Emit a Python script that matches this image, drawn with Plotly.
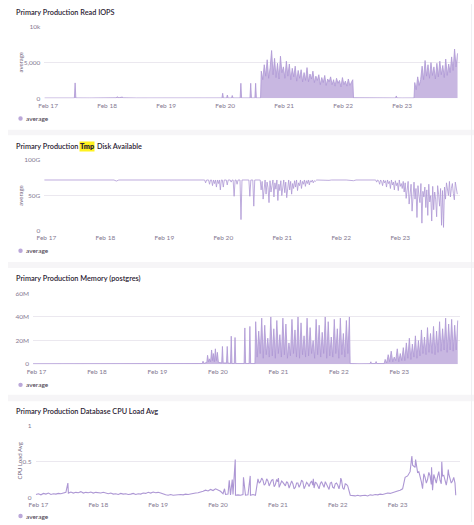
import plotly.graph_objects as go
from datetime import datetime, timedelta

W, H = 474, 525
T0 = datetime(2020, 2, 17)

# ---------------- DATA (hours after Feb 17 00:00, value) ----------------
DAY_LABELS = ["Feb 17", "Feb 18", "Feb 19", "Feb 20", "Feb 21", "Feb 22", "Feb 23"]

IOPS_QUIET_1 = [(-1.5, 30), (4, 40), (10.7, 30), (11.0, 2150), (11.3, 40), (17, 30), (24, 50),
                (27.6, 60), (28.2, 190), (28.8, 60), (30.1, 160), (30.7, 50), (36, 30), (44, 30),
                (52, 20), (60, 30), (66, 40), (70.7, 40), (71.0, 700), (71.3, 40), (72.6, 40),
                (72.9, 450), (73.2, 40), (74.6, 40), (74.9, 380), (75.2, 40), (78.1, 40),
                (78.4, 2100), (78.7, 40), (82.1, 40), (82.4, 2100), (82.7, 40), (84.1, 40),
                (84.4, 2100), (84.7, 40), (86.4, 40)]
IOPS_BLOCK_1_START, IOPS_BLOCK_1_STEP = 86.7, 0.6
IOPS_BLOCK_1 = [3800, 2600, 4700, 3100, 5400, 2800, 4300, 6700, 3300, 5600,
                2900, 4900, 2700, 5900, 3600, 4400, 2800, 5200, 3100, 4800,
                2600, 4200, 3000, 4500, 2400, 3900, 2800, 4000, 2300, 3600,
                2500, 4300, 2300, 3400, 2700, 3800, 2200, 3100, 2500, 3300,
                1900, 2900, 2200, 3200, 1800, 2700, 2300, 3000, 1900, 2600,
                1700, 2800, 2100, 2500, 1600, 2900, 1900, 2400, 1700, 2700, 1800, 2300, 2600]
IOPS_QUIET_2 = [(124.2, 60), (128, 40), (134, 30), (140, 40), (141.3, 40), (141.6, 320),
                (141.9, 40), (144, 30), (148.8, 40)]
IOPS_BLOCK_2_START, IOPS_BLOCK_2_STEP = 149.1, 0.6
IOPS_BLOCK_2 = [2200, 1200, 3000, 1800, 2600, 4500, 2600, 5300, 3100, 4700,
                2800, 5000, 3200, 4400, 2700, 4900, 3000, 5200, 3300, 4600,
                2900, 5500, 3200, 4800, 3600, 5800, 3900, 6900, 4400, 6300]

DISK_QUIET_1 = [(-1.5, 72), (10, 72), (27.5, 72), (28.5, 70.5), (29.5, 72), (45, 72), (60, 72), (64.0, 72)]
DISK_PRE = [(64.4, 72), (64.8, 68), (65.2, 72), (66.0, 72), (66.4, 66), (66.8, 72), (67.2, 72), (67.6, 64),
            (68.0, 72), (68.4, 67), (68.8, 72), (69.2, 62), (69.6, 72), (70.0, 67), (70.4, 72), (70.8, 58),
            (71.2, 72), (71.6, 72), (72.0, 62), (72.4, 72), (73.2, 72), (73.6, 65), (74.0, 72), (74.8, 72),
            (75.2, 69), (75.6, 72), (76.0, 72), (76.4, 49), (76.8, 72), (77.2, 72), (77.6, 66), (78.0, 72),
            (78.8, 72), (79.2, 16), (79.6, 72), (82.4, 72), (82.8, 49), (83.2, 72), (84.0, 72), (84.4, 35),
            (84.8, 72), (86.6, 72)]
DISK_BLOCK_1_START, DISK_BLOCK_1_STEP = 87.0, 0.4
DISK_BLOCK_1 = [72, 58, 70, 45, 66, 72, 52, 69, 61, 40, 71, 55, 64, 72, 48, 68, 59, 72, 43, 66,
                57, 71, 50, 63, 72, 54, 69, 47, 65, 72, 58, 70, 52, 67, 60,
                71, 62, 72, 57, 68, 64, 72, 60, 70, 66, 72, 63, 71, 67, 72, 65, 71, 69, 72, 68,
                71, 70, 72]
DISK_QUIET_2 = [(110, 72), (115, 71.5), (116, 72), (122, 72), (125, 71), (126, 72), (133.5, 72)]
DISK_BLOCK_2_START, DISK_BLOCK_2_STEP = 134.0, 0.4
DISK_BLOCK_2 = [72, 69, 72, 71, 66, 72, 70, 64, 72, 68, 71, 62, 72, 67, 70, 60, 72, 65, 69, 58,
                71, 64, 68, 57, 72, 63, 67, 60, 70, 55,
                68, 46, 62, 70, 38, 58,
                66, 28, 55, 69, 45, 60, 19, 64, 50, 40, 67, 11, 56, 48,
                62, 33, 58, 22, 66, 41, 50, 14, 63, 30, 55, 45, 20, 64, 52, 35, 60, 8, 57, 5,
                62, 45, 68, 55, 50, 70, 48, 60, 67, 53, 44, 69, 58, 52]

MEM_QUIET_1 = [(-1.5, 0.3), (10, 0.4), (20, 0.3), (30, 0.4), (40, 0.3), (50, 0.4), (60, 0.3), (63.5, 0.5)]
MEM_PRE = [(64.5, 0.5), (65.8, 0.5), (66.1, 2.5), (66.4, 0.5), (67.6, 1.5), (67.9, 7.5), (68.3, 2),
           (68.7, 4.5), (69.1, 2), (69.5, 12), (69.9, 3), (70.2, 9), (70.6, 2), (71.0, 13), (71.4, 3),
           (71.8, 10), (72.2, 1.5), (73.5, 1), (73.8, 15), (74.1, 1), (75.4, 1), (75.7, 15), (76.0, 1),
           (77.0, 0.5), (77.3, 23.7), (77.6, 0.5), (78.5, 0.5), (78.8, 22.6), (79.1, 0.5), (82.4, 0.5),
           (82.7, 30.7), (83.0, 0.5), (84.4, 0.5), (84.7, 32), (85.0, 0.5), (86.7, 0.5)]
MEM_BLOCK_1_START, MEM_BLOCK_1_STEP = 87.0, 0.6
MEM_BLOCK_1 = [36, 6, 28, 9, 39, 5, 33, 8, 22, 6, 40, 7, 30, 5, 37, 9, 25, 6, 39, 8,
               34, 5, 18, 7, 38, 9, 29, 6, 40, 5, 35, 8, 24, 6, 39, 7, 31, 9, 20, 5,
               38, 8, 33, 6, 27, 9, 40, 5, 36, 7, 23, 6, 38, 9, 30, 5, 39, 8, 26, 6,
               37, 9, 40]
MEM_QUIET_2 = [(124.5, 0.5), (128, 0.3), (132.4, 0.4), (132.7, 2), (133.0, 0.5), (134.5, 0.5),
               (134.8, 2.2), (135.1, 0.5), (138.0, 0.5)]
MEM_BLOCK_2_START, MEM_BLOCK_2_STEP = 138.4, 0.6
MEM_BLOCK_2 = [4, 1, 8, 2, 11, 2, 6, 3, 13, 2, 9, 3, 14, 3,
               18, 5, 22, 4, 17, 6, 24, 5, 20,
               7, 29, 9, 23, 8, 31, 10, 26, 9, 32, 8, 28, 10,
               36, 11, 30, 12, 39, 10, 34, 12, 38, 11, 33, 12, 37]

CPU_START, CPU_STEP = -1.0, 1.0
CPU_HOURLY = [0.04, 0.05, 0.035, 0.055, 0.045, 0.06, 0.04, 0.05, 0.045, 0.055, 0.05,
              0.06, 0.07, 0.06, 0.075, 0.06, 0.07, 0.065, 0.08, 0.06, 0.07,
              0.065, 0.075, 0.06, 0.07, 0.065, 0.06, 0.07, 0.055, 0.05, 0.06,
              0.045, 0.05, 0.04, 0.055, 0.045, 0.05, 0.04, 0.045, 0.055, 0.04,
              0.05, 0.045, 0.06, 0.055, 0.07, 0.06, 0.075, 0.065, 0.07, 0.06,
              0.045, 0.035, 0.03, 0.04, 0.03, 0.035, 0.03, 0.04, 0.035, 0.045,
              0.04, 0.05, 0.055, 0.06, 0.065, 0.07, 0.085, 0.1, 0.09, 0.11,
              0.095, 0.12, 0.1, 0.085, 0.05, 0.04, 0.045, 0.035, 0.04, 0.03,
              0.035, 0.03, 0.04, 0.03, 0.035, 0.03, 0.04, 0.03, 0.26, 0.22,
              0.24, 0.19, 0.23, 0.2, 0.25, 0.18, 0.22, 0.19, 0.21, 0.16,
              0.2, 0.17, 0.19, 0.14, 0.2, 0.18, 0.22, 0.16, 0.19, 0.2,
              0.17, 0.21, 0.15, 0.19, 0.18, 0.22, 0.16, 0.2, 0.14, 0.19,
              0.17, 0.2, 0.13, 0.19, 0.16, 0.03, 0.025, 0.02, 0.03, 0.02,
              0.025, 0.03, 0.02, 0.035, 0.03, 0.04, 0.035, 0.045, 0.04, 0.05,
              0.06, 0.055, 0.07, 0.08, 0.09, 0.1, 0.12, 0.28, 0.3, 0.36,
              0.45, 0.42, 0.35, 0.3, 0.12, 0.28, 0.25, 0.3, 0.1, 0.26,
              0.29, 0.24, 0.3, 0.22, 0.27, 0.25, 0.23, 0.2]
CPU_HALF_1_START, CPU_HALF_STEP = 88.5, 1.0
CPU_HALF_1 = [0.2, 0.27, 0.17, 0.26, 0.16, 0.24, 0.15, 0.25, 0.14, 0.23, 0.18, 0.22, 0.13, 0.23, 0.12,
              0.2, 0.14, 0.24, 0.12, 0.21, 0.15, 0.23, 0.13, 0.2, 0.12, 0.22, 0.14, 0.19, 0.11, 0.21,
              0.13, 0.2, 0.12, 0.24, 0.11, 0.18]
CPU_HALF_2_START = 152.5
CPU_HALF_2 = [0.36, 0.22, 0.33, 0.2, 0.35, 0.18, 0.32, 0.2, 0.36, 0.19, 0.31, 0.17, 0.33, 0.2, 0.28]
CPU_SPIKES = [(11.8, 0.2), (74.6, 0.12), (76.5, 0.24), (77.7, 0.25), (78.9, 0.53), (82.2, 0.28),
              (84.9, 0.3), (96.2, 0.27), (110.2, 0.26), (121.2, 0.27), (149.7, 0.58), (151.2, 0.53),
              (157.6, 0.42), (161.7, 0.5), (164.3, 0.39), (167.3, 0.03)]

TITLES = ["Primary Production Read IOPS", "Primary Production Tmp Disk Available",
          "Primary Production Memory (postgres)", "Primary Production Database CPU Load Avg"]


def seg(start, step, vals):
    return [(start + step * i, v) for i, v in enumerate(vals)]


def series(*parts):
    pts = []
    for p in parts:
        pts.extend(p)
    pts.sort(key=lambda p: p[0])
    return [T0 + timedelta(hours=h) for h, _ in pts], [v for _, v in pts]


def fx(px):
    return px / W


def fy(py):
    return 1 - py / H


def hr(h):
    return T0 + timedelta(hours=h)


LINE = "#ad97d4"
FILL = "#c8b7e1"
TICK = dict(family="Lato", size=6.5, color="#857a92")
GRID = "#ebe8ef"
TITLE_FONT = dict(family="Lato", size=7.3, color="#2b2233", weight=600)

x1, y1 = series(IOPS_QUIET_1, seg(IOPS_BLOCK_1_START, IOPS_BLOCK_1_STEP, IOPS_BLOCK_1),
                IOPS_QUIET_2, seg(IOPS_BLOCK_2_START, IOPS_BLOCK_2_STEP, IOPS_BLOCK_2))
x2, y2 = series(DISK_QUIET_1, DISK_PRE,
                seg(DISK_BLOCK_1_START, DISK_BLOCK_1_STEP, DISK_BLOCK_1), DISK_QUIET_2,
                seg(DISK_BLOCK_2_START, DISK_BLOCK_2_STEP, DISK_BLOCK_2))
x3, y3 = series(MEM_QUIET_1, MEM_PRE, seg(MEM_BLOCK_1_START, MEM_BLOCK_1_STEP, MEM_BLOCK_1),
                MEM_QUIET_2, seg(MEM_BLOCK_2_START, MEM_BLOCK_2_STEP, MEM_BLOCK_2))
x4, y4 = series(seg(CPU_START, CPU_STEP, CPU_HOURLY), seg(CPU_HALF_1_START, CPU_HALF_STEP, CPU_HALF_1),
                seg(CPU_HALF_2_START, CPU_HALF_STEP, CPU_HALF_2), CPU_SPIKES)

fig = go.Figure()
fig.add_trace(go.Scatter(x=x1, y=y1, mode="lines", line=dict(color=LINE, width=0.8), fill="tozeroy",
                         fillcolor=FILL, xaxis="x", yaxis="y", showlegend=False, hoverinfo="skip"))
fig.add_trace(go.Scatter(x=x2, y=y2, mode="lines", line=dict(color=LINE, width=0.8),
                         xaxis="x2", yaxis="y2", showlegend=False, hoverinfo="skip"))
fig.add_trace(go.Scatter(x=x3, y=y3, mode="lines", line=dict(color=LINE, width=0.8), fill="tozeroy",
                         fillcolor=FILL, xaxis="x3", yaxis="y3", showlegend=False, hoverinfo="skip"))
fig.add_trace(go.Scatter(x=x4, y=y4, mode="lines", line=dict(color=LINE, width=1.1),
                         xaxis="x4", yaxis="y4", showlegend=False, hoverinfo="skip"))

panels = [
    dict(l=37, r=460, t=23.3, b=95.5, hrange=(-1.5, 167.6), yr=(0, 10000),
         yt=[0, 5000, 10000], yl=["0", "5,000", "10k"]),
    dict(l=37, r=460, t=158.3, b=230, hrange=(-0.8, 168.4), yr=(0, 100),
         yt=[0, 50, 100], yl=["0", "50G", "100G"]),
    dict(l=25.5, r=460, t=293.3, b=365, hrange=(-1.37, 168.2), yr=(0, 60),
         yt=[0, 20, 40, 60], yl=["0", "20M", "40M", "60M"]),
    dict(l=28, r=460, t=427.7, b=500, hrange=(-1.17, 169.1), yr=(0, 1),
         yt=[0, 0.5, 1], yl=["0", "0.5", "1"]),
]
day_ticks = [hr(24 * i) for i in range(7)]
layout_axes = {}
for i, p in enumerate(panels, start=1):
    sx = "" if i == 1 else str(i)
    layout_axes["xaxis" + sx] = dict(
        domain=[fx(p["l"]), fx(p["r"])], range=[hr(p["hrange"][0]), hr(p["hrange"][1])],
        anchor="y" + sx, tickvals=day_ticks, ticktext=DAY_LABELS, showgrid=False,
        zeroline=False, showline=False, ticks="", tickfont=TICK, ticklabelstandoff=2, fixedrange=True)
    layout_axes["yaxis" + sx] = dict(
        domain=[fy(p["b"]), fy(p["t"])], range=list(p["yr"]), anchor="x" + sx,
        tickvals=p["yt"], ticktext=p["yl"], showgrid=True, gridcolor=GRID, gridwidth=1,
        zeroline=False, showline=False, ticks="", tickfont=TICK, ticklabelstandoff=3, fixedrange=True)

annotations = []
shapes = []
title_y = [9, 144, 278, 413]
legend_y = [116, 250, 386, 519]
for i, t in enumerate(TITLES):
    if i == 1:
        continue
    annotations.append(dict(text=t, x=fx(6), y=fy(title_y[i]), xref="paper", yref="paper",
                            xanchor="left", yanchor="middle", showarrow=False, font=TITLE_FONT))
annotations.append(dict(text="Primary Production", x=fx(6), y=fy(title_y[1]), xref="paper", yref="paper",
                        xanchor="left", yanchor="middle", showarrow=False, font=TITLE_FONT))
annotations.append(dict(text="Tmp", x=fx(80.5), y=fy(title_y[1]), xref="paper", yref="paper",
                        xanchor="center", yanchor="middle", showarrow=False, bgcolor="#fff21f",
                        borderpad=0, font=dict(family="Lato", size=7.3, color="#2b2233", weight=800)))
annotations.append(dict(text="Disk Available", x=fx(89), y=fy(title_y[1]), xref="paper", yref="paper",
                        xanchor="left", yanchor="middle", showarrow=False, font=TITLE_FONT))

for i, yy in enumerate(legend_y):
    annotations.append(dict(text="average", x=fx(16), y=fy(yy), xref="paper", yref="paper",
                            xanchor="left", yanchor="middle", showarrow=False,
                            font=dict(family="Lato", size=6.5, color="#3e3446")))
    shapes.append(dict(type="circle", xref="paper", yref="paper", x0=fx(10.5), x1=fx(15),
                       y0=fy(yy + 2.25), y1=fy(yy - 2.25), fillcolor="#bba8d9", line=dict(width=0)))

for txt, xx, yy in [("average", 12.5, 59), ("average", 12.5, 194), ("CPU Load Avg", 12, 463)]:
    annotations.append(dict(text=txt, x=fx(xx), y=fy(yy), xref="paper", yref="paper",
                            xanchor="center", yanchor="middle", textangle=-90, showarrow=False,
                            font=dict(family="Lato", size=6, color="#6f647c")))

for y0, y1s in [(127.5, 133), (261.5, 267.5), (396, 402.5)]:
    shapes.append(dict(type="rect", xref="paper", yref="paper", x0=0, x1=1, y0=fy(y1s), y1=fy(y0),
                       fillcolor="#f6f5f7", line=dict(width=0), layer="below"))
shapes.append(dict(type="line", xref="paper", yref="paper", x0=fx(471.5), x1=fx(471.5), y0=0, y1=1,
                   line=dict(color="#f0eff2", width=1), layer="below"))

fig.update_layout(
    width=W, height=H, margin=dict(l=0, r=0, t=0, b=0),
    paper_bgcolor="white", plot_bgcolor="rgba(0,0,0,0)",
    showlegend=False, annotations=annotations, shapes=shapes,
    font=dict(family="Lato"), **layout_axes)

fig.write_html("out.html", config={"displayModeBar": False},
               post_script="document.body.style.margin='0px';")
